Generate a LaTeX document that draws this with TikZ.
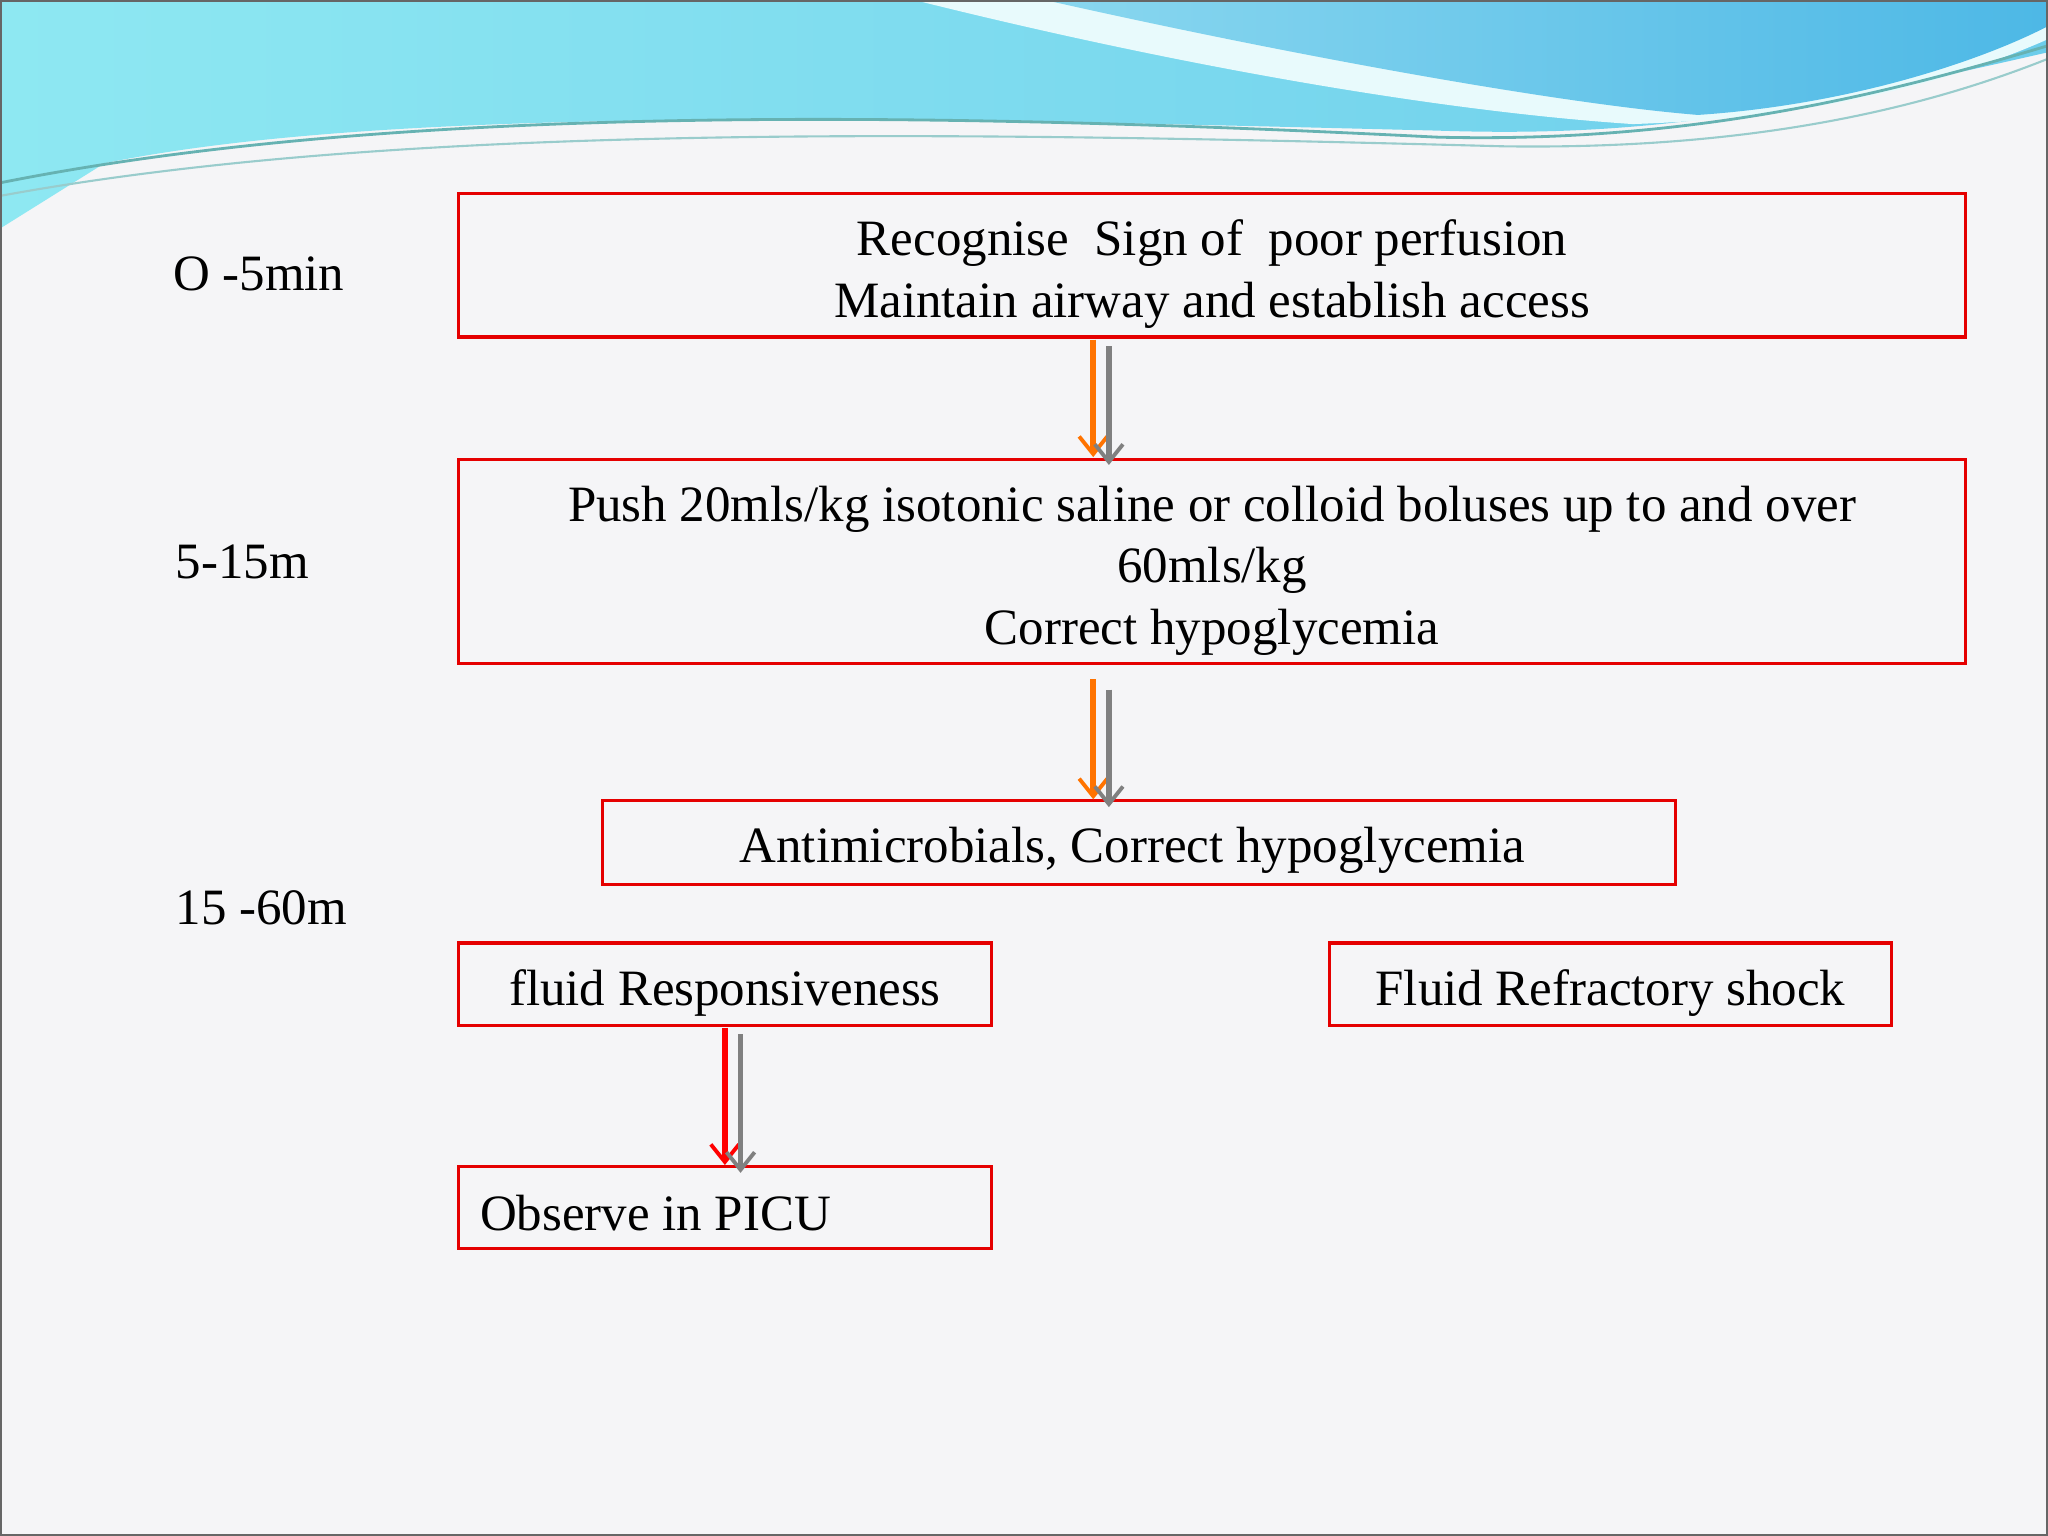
\documentclass[tikz,border=0pt]{standalone}
\usepackage{fontspec}
\setmainfont{Liberation Serif}
\usetikzlibrary{arrows.meta}
\definecolor{cyl}{HTML}{8EE8F2}
\definecolor{cyr}{HTML}{6CCDEB}
\definecolor{blr}{HTML}{4DB8E6}
\definecolor{bgc}{HTML}{F5F5F7}
\begin{document}
\begin{tikzpicture}[x=0.01306cm,y=-0.01306cm,
  box/.style={draw=red!90!black,line width=0.9pt,inner sep=0pt},
  txt/.style={font=\fontsize{14.5}{17.5}\selectfont,align=center},
  lbl/.style={font=\fontsize{14.5}{17.5}\selectfont,anchor=west},
  arr/.style={line width=1.6pt,-{Straight Barb[length=5pt,width=8pt,line width=1.1pt]}}]
\fill[bgc] (0,0) rectangle (1568,1176);
\useasboundingbox (0,0) rectangle (1568,1176);
% top decoration
\shade[left color=cyl,right color=cyr] (0,0) -- (1568,0) -- (1568,40) .. controls (1350,90) and (1250,105) .. (1100,100) .. controls (700,90) and (300,80) .. (80,125) -- (0,175) -- cycle;
\fill[white!80!cyl] (700,0) .. controls (900,50) and (1100,85) .. (1250,95) .. controls (1400,90) and (1500,60) .. (1568,30) -- (1568,0) -- cycle;
\shade[left color=cyr!80!white,right color=blr] (800,0) .. controls (1000,45) and (1200,80) .. (1300,88) .. controls (1420,80) and (1520,45) .. (1568,20) -- (1568,0) -- cycle;
\draw[teal!60,line width=0.8pt] (0,140) .. controls (300,80) and (700,85) .. (1100,105) .. controls (1300,110) and (1450,70) .. (1568,35);
\draw[teal!40,line width=0.6pt] (0,150) .. controls (300,95) and (700,100) .. (1150,112) .. controls (1350,115) and (1480,80) .. (1568,45);
\draw[gray!80!black,line width=0.8pt] (0.5,0.5) rectangle (1567.5,1175.5);
% boxes
\node[box,minimum width=1154*0.01306cm,minimum height=110*0.01306cm] (b1) at (928,203) {};
\node[txt] (t1) at (928,210) {Recognise\ \ Sign of\ \ poor perfusion\\Maintain airway and establish access};
\node[box,minimum width=1154*0.01306cm,minimum height=156*0.01306cm] (b2) at (928,430) {};
\node[txt] (t2) at (928,437) {Push 20mls/kg isotonic saline or colloid boluses up to and over\\60mls/kg\\Correct hypoglycemia};
\node[box,minimum width=822*0.01306cm,minimum height=64*0.01306cm] (b3) at (872,645) {};
\node[txt] (t3) at (867,651) {Antimicrobials, Correct hypoglycemia};
\node[box,minimum width=408*0.01306cm,minimum height=63*0.01306cm] (b4) at (555,753.5) {};
\node[txt] (t4) at (555,760) {fluid Responsiveness};
\node[box,minimum width=430*0.01306cm,minimum height=63*0.01306cm] (b5) at (1233,753.5) {};
\node[txt] (t5) at (1233,760) {Fluid Refractory shock};
\node[box,minimum width=408*0.01306cm,minimum height=63*0.01306cm] (b6) at (555,924.5) {};
\node[lbl] (t6) at (358,929) {Observe in PICU};
% time labels
\node[lbl] (l1) at (123,210) {O -5min};
\node[lbl] (l2) at (125,430) {5-15m};
\node[lbl] (l3) at (125,695) {15 -60m};
% arrows
\coordinate (a1s) at (837,260); \coordinate (a1e) at (837,350);
\coordinate (g1s) at (849,265); \coordinate (g1e) at (849,356);
\draw[arr,draw=orange!90!red] (a1s) -- (a1e);
\draw[arr,draw=gray] (g1s) -- (g1e);
\coordinate (a2s) at (837,520); \coordinate (a2e) at (837,612);
\coordinate (g2s) at (849,528); \coordinate (g2e) at (849,618);
\draw[arr,draw=orange!90!red] (a2s) -- (a2e);
\draw[arr,draw=gray] (g2s) -- (g2e);
\coordinate (a3s) at (555,787); \coordinate (a3e) at (555,892);
\coordinate (g3s) at (567,792); \coordinate (g3e) at (567,898);
\draw[arr,draw=red] (a3s) -- (a3e);
\draw[arr,draw=gray] (g3s) -- (g3e);
\end{tikzpicture}
\end{document}
